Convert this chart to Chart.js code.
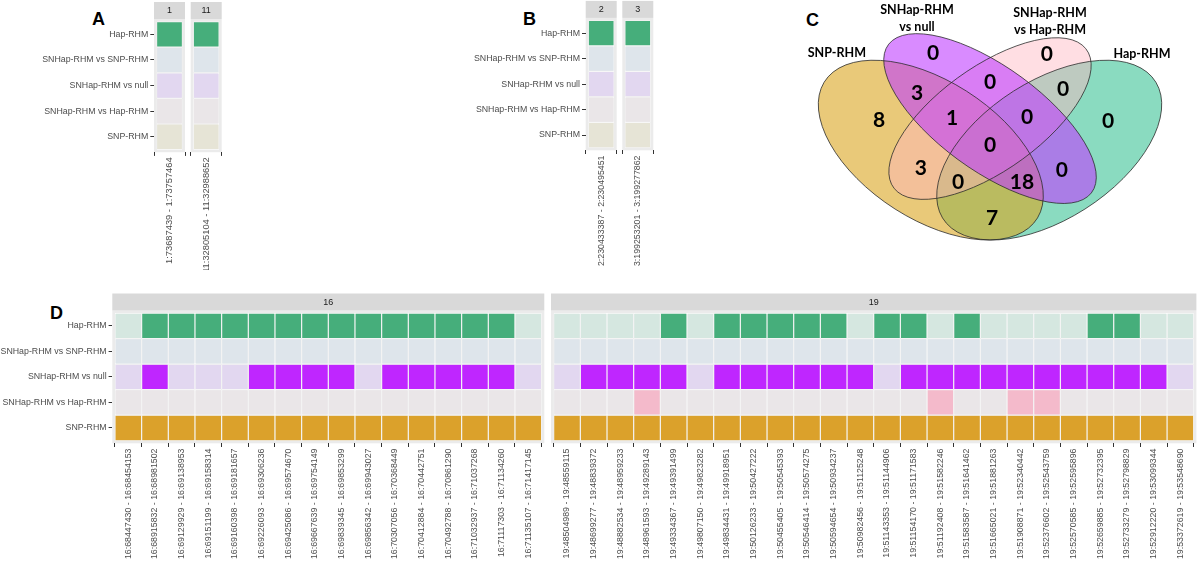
<!DOCTYPE html>
<html>
<head>
<meta charset="utf-8">
<script src="https://cdn.jsdelivr.net/npm/chart.js@4.4.0/dist/chart.umd.min.js"></script>
<style>
  html, body { margin:0; padding:0; background:#ffffff; width:1200px; height:562px; overflow:hidden; position:relative; }
  .letter { position:absolute; font-family:'Liberation Sans', Arial, sans-serif; font-weight:bold; font-size:18px; line-height:18px; color:#000; }
</style>
</head>
<body>
<div class="letter" style="left:92px;top:10px">A</div>
<div class="letter" style="left:523px;top:10px">B</div>
<div class="letter" style="left:806px;top:11px">C</div>
<div class="letter" style="left:50px;top:304px">D</div>
<script>
// ---------------- DATA ----------------
const rowNames = ['Hap-RHM', 'SNHap-RHM vs SNP-RHM', 'SNHap-RHM vs null', 'SNHap-RHM vs Hap-RHM', 'SNP-RHM'];

// Panel A
const facetA1 = '1';
const catsA1 = ['1:73687439 - 1:73757464'];
const facetA2 = '11';
const catsA2 = ['11:32805104 - 11:32988652'];
// Panel B
const facetB1 = '2';
const catsB1 = ['2:230433387 - 2:230495451'];
const facetB2 = '3';
const catsB2 = ['3:199253201 - 3:199277862'];

// significance (1 = significant) for the single-region facets
const sigSingleHap   = [1];
const sigSingleOther = [0];

// Panel D, chromosome 16
const facetD1 = '16';
const cats16 = ['16:68447430 - 16:68454153','16:68915832 - 16:68981502','16:69129929 - 16:69138953','16:69151199 - 16:69158314',
  '16:69160398 - 16:69181657','16:69226093 - 16:69306236','16:69425086 - 16:69574670','16:69667639 - 16:69754149',
  '16:69839345 - 16:69853299','16:69856342 - 16:69943027','16:70307056 - 16:70368449','16:70412884 - 16:70442751',
  '16:70492788 - 16:70861290','16:71032937 - 16:71037268','16:71117303 - 16:71134260','16:71135107 - 16:71417145'];
const hap16   = [0,1,1,1,1,1,1,1,1,1,1,1,1,1,1,0];
const vsSnp16 = [0,0,0,0,0,0,0,0,0,0,0,0,0,0,0,0];
const null16  = [0,1,0,0,0,1,1,1,1,0,1,1,1,1,1,0];
const vsHap16 = [0,0,0,0,0,0,0,0,0,0,0,0,0,0,0,0];
const snp16   = [1,1,1,1,1,1,1,1,1,1,1,1,1,1,1,1];

// Panel D, chromosome 19
const facetD2 = '19';
const cats19 = ['19:48504989 - 19:48559115','19:48699277 - 19:48839372','19:48882534 - 19:48959233','19:48961593 - 19:49289143',
  '19:49334367 - 19:49391499','19:49807150 - 19:49823282','19:49834431 - 19:49918951','19:50126233 - 19:50427222',
  '19:50455405 - 19:50545393','19:50546414 - 19:50574275','19:50594654 - 19:50934237','19:50982456 - 19:51125248',
  '19:51143353 - 19:51144906','19:51154170 - 19:51171583','19:51192408 - 19:51582246','19:51583587 - 19:51641462',
  '19:51665021 - 19:51881263','19:51908871 - 19:52340442','19:52376602 - 19:52543759','19:52570585 - 19:52595896',
  '19:52659885 - 19:52732395','19:52733279 - 19:52798829','19:52912220 - 19:53099344','19:53372619 - 19:53548690'];
const hap19   = [0,0,0,0,1,0,1,1,1,1,1,0,1,1,0,1,0,0,0,0,1,1,0,0];
const vsSnp19 = [0,0,0,0,0,0,0,0,0,0,0,0,0,0,0,0,0,0,0,0,0,0,0,0];
const null19  = [0,1,1,1,1,0,1,1,1,1,1,1,0,1,1,1,1,1,1,1,1,1,1,0];
const vsHap19 = [0,0,0,1,0,0,0,0,0,0,0,0,0,0,1,0,0,1,1,0,0,0,0,0];
const snp19   = [1,1,1,1,1,1,1,1,1,1,1,1,1,1,1,1,1,1,1,1,1,1,1,1];

// Panel C (Venn)
const vennSets   = ['SNP-RHM', 'SNHap-RHM\nvs null', 'SNHap-RHM\nvs Hap-RHM', 'Hap-RHM'];
const vennCounts = [8, 0, 0, 0, 3, 0, 0, 1, 0, 0, 3, 0, 0, 18, 7];

// ---------------- STYLE / LAYOUT ----------------
const sigColors = ['#46AE7B', '#6C9BD2', '#BF26FF', '#F4BACB', '#DBA12B'];
const nsColors  = ['#D5E7E0', '#DEE5EB', '#E2D7F0', '#EAE6E8', '#E8E5D6'];
const nsColorsSingle = ['#D5E7E0', '#DEE5EB', '#E2D7F0', '#EAE6E8', '#E6E4D6'];
const FONT = "'Liberation Sans', Arial, sans-serif";

// Venn geometry (unit square, y up): centre x, centre y, semi-axes, rotation
const vennEllipses = [
  {cx:0.35, cy:0.47, a:0.35, b:0.20, rot:135},
  {cx:0.50, cy:0.57, a:0.35, b:0.15, rot:135},
  {cx:0.50, cy:0.57, a:0.33, b:0.15, rot:45},
  {cx:0.65, cy:0.47, a:0.35, b:0.20, rot:45}
];
const vennFills = ['rgba(218,165,32,0.6)', 'rgba(191,62,255,0.6)', 'rgba(255,182,193,0.45)', 'rgba(60,195,150,0.6)'];
const vennDrawOrder = [3, 0, 2, 1];
const vennCountPos = [[0.219,0.566],[0.356,0.778],[0.644,0.775],[0.799,0.562],[0.315,0.651],[0.500,0.686],[0.685,0.664],
  [0.404,0.572],[0.594,0.575],[0.500,0.486],[0.325,0.413],[0.682,0.407],[0.419,0.369],[0.581,0.369],[0.505,0.255]];
const vennSetPos = [[0.112,0.778],[0.315,0.8875],[0.652,0.878],[0.885,0.775]];

// ---------------- PLUGINS ----------------
const panelPlugin = {
  id: 'panel',
  beforeDraw(chart, args, o) {
    const {ctx, chartArea: a} = chart;
    ctx.save();
    ctx.fillStyle = '#EBEBEB';
    ctx.fillRect(a.left, a.top, a.right - a.left, a.bottom - a.top);
    if (o.text) {
      ctx.fillStyle = '#D9D9D9';
      ctx.fillRect(a.left, a.top - o.h, a.right - a.left, o.h);
      ctx.fillStyle = '#1A1A1A';
      ctx.font = '9px ' + FONT;
      ctx.textAlign = 'center';
      ctx.textBaseline = 'middle';
      ctx.fillText(o.text, (a.left + a.right) / 2, a.top - o.h / 2 + 0.5);
    }
    ctx.restore();
  }
};

function makeCanvas(left, top, w, h) {
  const c = document.createElement('canvas');
  c.width = w; c.height = h;
  c.style.cssText = 'position:absolute;left:' + left + 'px;top:' + top + 'px;width:' + w + 'px;height:' + h + 'px';
  document.body.appendChild(c);
  return c;
}

function heatChart(box, facet, cats, sig, ns, L) {
  const n = cats.length;
  const bottomUp = rowNames.slice().reverse();
  const datasets = bottomUp.map((name, k) => {
    const r = rowNames.length - 1 - k;
    return {
      label: name,
      data: cats.map((c, i) => ({x: i, y: 1})),
      backgroundColor: sig[r].map(s => s ? sigColors[r] : ns[r]),
      borderColor: '#FFFFFF',
      borderWidth: 0.6,
      borderSkipped: false,
      inflateAmount: 0,
      barPercentage: n > 1 ? 1 : 1 / 1.2,
      categoryPercentage: 1
    };
  });
  const yFont = {family: FONT, size: 8.8};
  const xFont = {family: FONT, size: L.xFs || 8.8};
  return new Chart(makeCanvas(box[0], box[1], box[2], box[3]), {
    type: 'bar',
    data: {datasets},
    options: {
      responsive: false, animation: false, events: [],
      layout: {padding: {left: L.padL, right: L.padR, top: L.padT, bottom: 0}},
      plugins: {legend: {display: false}, tooltip: {enabled: false}, panel: {text: facet, h: 17}},
      scales: {
        x: {
          type: 'linear', stacked: true, min: -0.6, max: n - 0.4, offset: false,
          afterBuildTicks: s => { s.ticks = cats.map((c, i) => ({value: i})); },
          afterFit: s => { s.height = L.xH; },
          ticks: {autoSkip: false, minRotation: 90, maxRotation: 90, padding: 1.5, color: '#4D4D4D', font: xFont,
                  callback: v => cats[v]},
          grid: {drawOnChartArea: false, drawTicks: true, tickLength: 3.7, color: '#333333', lineWidth: 1},
          border: {display: false}
        },
        y: {
          type: 'linear', stacked: true, min: -0.1, max: 5.1, display: L.showY,
          afterBuildTicks: s => { s.ticks = [0.5, 1.5, 2.5, 3.5, 4.5].map(v => ({value: v})); },
          afterFit: s => { s.width = L.yW; },
          ticks: {padding: 2, color: '#4D4D4D', font: yFont, callback: v => bottomUp[Math.floor(v)]},
          grid: {drawOnChartArea: false, drawTicks: true, tickLength: 3.7, color: '#333333', lineWidth: 1},
          border: {display: false}
        }
      }
    },
    plugins: [panelPlugin]
  });
}

const single = () => [sigSingleHap, sigSingleOther, sigSingleOther, sigSingleOther, sigSingleOther];

// Panel A
heatChart([0, 0, 188, 270], facetA1, catsA1, single(), nsColorsSingle, {padL: 0, padR: 3, padT: 19, xH: 117.8, yW: 154, showY: true, xFs: 9.3});
heatChart([188, 0, 36, 270], facetA2, catsA2, single(), nsColorsSingle, {padL: 2.7, padR: 2.3, padT: 19, xH: 117.8, yW: 0, showY: false, xFs: 9.3});
// Panel B
heatChart([420, 0, 200, 270], facetB1, catsB1, single(), nsColorsSingle, {padL: 0, padR: 3.3, padT: 17.9, xH: 119.7, yW: 165.7, showY: true});
heatChart([620, 0, 36, 270], facetB2, catsB2, single(), nsColorsSingle, {padL: 2.3, padR: 2.7, padT: 17.9, xH: 119.7, yW: 0, showY: false});
// Panel D
heatChart([0, 290, 548, 272], facetD1, cats16, [hap16, vsSnp16, null16, vsHap16, snp16], nsColors, {padL: 0, padR: 3.7, padT: 20.5, xH: 118.7, yW: 112.3, showY: true});
heatChart([548, 290, 652, 272], facetD2, cats19, [hap19, vsSnp19, null19, vsHap19, snp19], nsColors, {padL: 3, padR: 3.6, padT: 20.5, xH: 118.7, yW: 0, showY: false});

// Panel C: Venn diagram
const vennPlugin = {
  id: 'venn',
  beforeDatasetsDraw(chart) {
    const {ctx} = chart;
    const xs = chart.scales.x, ys = chart.scales.y;
    const kx = xs.getPixelForValue(1) - xs.getPixelForValue(0);
    const ky = ys.getPixelForValue(0) - ys.getPixelForValue(1);
    const path = (e) => {
      ctx.save();
      ctx.translate(xs.getPixelForValue(e.cx), ys.getPixelForValue(e.cy));
      ctx.scale(kx, -ky);
      ctx.rotate(e.rot * Math.PI / 180);
      ctx.beginPath();
      ctx.ellipse(0, 0, e.a, e.b, 0, 0, 2 * Math.PI);
      ctx.restore();
    };
    ctx.save();
    vennDrawOrder.forEach(i => { path(vennEllipses[i]); ctx.fillStyle = vennFills[i]; ctx.fill(); });
    ctx.strokeStyle = '#2b2b2b';
    ctx.lineWidth = 0.8;
    vennDrawOrder.forEach(i => { path(vennEllipses[i]); ctx.stroke(); });
    ctx.restore();
  },
  afterDatasetsDraw(chart) {
    const {ctx} = chart;
    const xs = chart.scales.x, ys = chart.scales.y;
    const meta = chart.getDatasetMeta(0);
    ctx.save();
    ctx.fillStyle = '#000000';
    ctx.textAlign = 'center';
    ctx.textBaseline = 'middle';
    ctx.font = 'bold 21px Lato, "Open Sans", sans-serif';
    meta.data.forEach((pt, i) => ctx.fillText(String(vennCounts[i]), pt.x, pt.y));
    ctx.font = 'bold 12.5px Lato, "Open Sans", sans-serif';
    vennSets.forEach((name, i) => {
      const lines = name.split('\n');
      const px = xs.getPixelForValue(vennSetPos[i][0]);
      const py = ys.getPixelForValue(vennSetPos[i][1]);
      const lh = 17;
      lines.forEach((ln, j) => ctx.fillText(ln, px, py + (j - (lines.length - 1) / 2) * lh));
    });
    ctx.restore();
  }
};

new Chart(makeCanvas(800, 0, 400, 270), {
  type: 'scatter',
  data: {datasets: [{data: vennCounts.map((v, i) => ({x: vennCountPos[i][0], y: vennCountPos[i][1]})), pointRadius: 0}]},
  options: {
    responsive: false, animation: false, events: [],
    layout: {padding: 0},
    plugins: {legend: {display: false}, tooltip: {enabled: false}},
    scales: {x: {display: false, min: 0.0186, max: 1.032}, y: {display: false, min: 0.0898, max: 0.946}}
  },
  plugins: [vennPlugin]
});
</script>
</body>
</html>
